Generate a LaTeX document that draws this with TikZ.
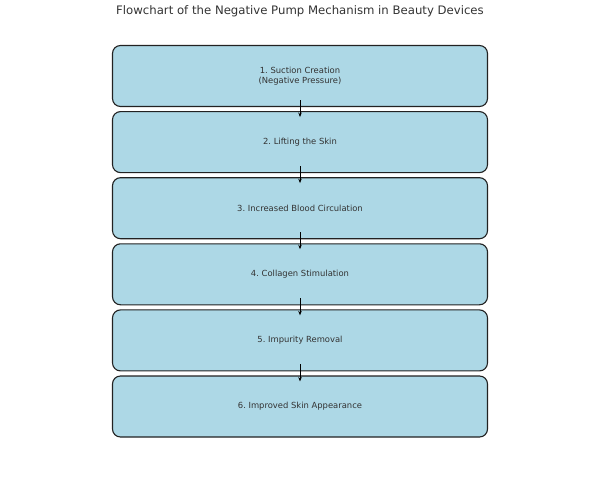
\documentclass[tikz,border=0pt]{standalone}
\usepackage{fontspec}
\setmainfont{DejaVu Sans}
\usepackage{tikz}
\usetikzlibrary{positioning}
\usetikzlibrary{arrows.meta}
\definecolor{boxblue}{HTML}{ADD8E6}
\definecolor{boxedge}{HTML}{222222}
\definecolor{labelgray}{HTML}{333333}
\frenchspacing

\begin{document}
\begin{tikzpicture}[x=1pt,y=-1pt,>={Stealth[length=4.5pt,width=3.5pt]}]
\tikzset{stagebox/.style={rectangle,draw=boxedge,line width=1.1pt,fill=boxblue,rounded corners=8pt,minimum width=375pt,minimum height=61pt,align=center,text=labelgray,font=\fontsize{8.4}{10}\selectfont},
flowarrow/.style={->,line width=0.9pt,black}}
\useasboundingbox (0,0) rectangle (600,479);
\node [text=labelgray,font=\fontsize{11.7}{13}\selectfont](title) at (300,11) {Flowchart of the Negative Pump Mechanism in Beauty Devices};
\node [stagebox](suction) at (300,76) {1. Suction Creation\\(Negative Pressure)};
\node [stagebox,below=4pt of suction](lifting) {2. Lifting the Skin};
\node [stagebox,below=4pt of lifting](blood) {3. Increased Blood Circulation};
\node [stagebox,below=4pt of blood](collagen) {4. Collagen Stimulation};
\node [stagebox,below=4pt of collagen](impurity) {5. Impurity Removal};
\node [stagebox,below=4pt of impurity](appear) {6. Improved Skin Appearance};
\draw [flowarrow] ([yshift=7pt]suction.south) to ([yshift=-6pt]lifting.north);
\draw [flowarrow] ([yshift=7pt]lifting.south) to ([yshift=-6pt]blood.north);
\draw [flowarrow] ([yshift=7pt]blood.south) to ([yshift=-6pt]collagen.north);
\draw [flowarrow] ([yshift=7pt]collagen.south) to ([yshift=-6pt]impurity.north);
\draw [flowarrow] ([yshift=7pt]impurity.south) to ([yshift=-6pt]appear.north);
\end{tikzpicture}
\end{document}
